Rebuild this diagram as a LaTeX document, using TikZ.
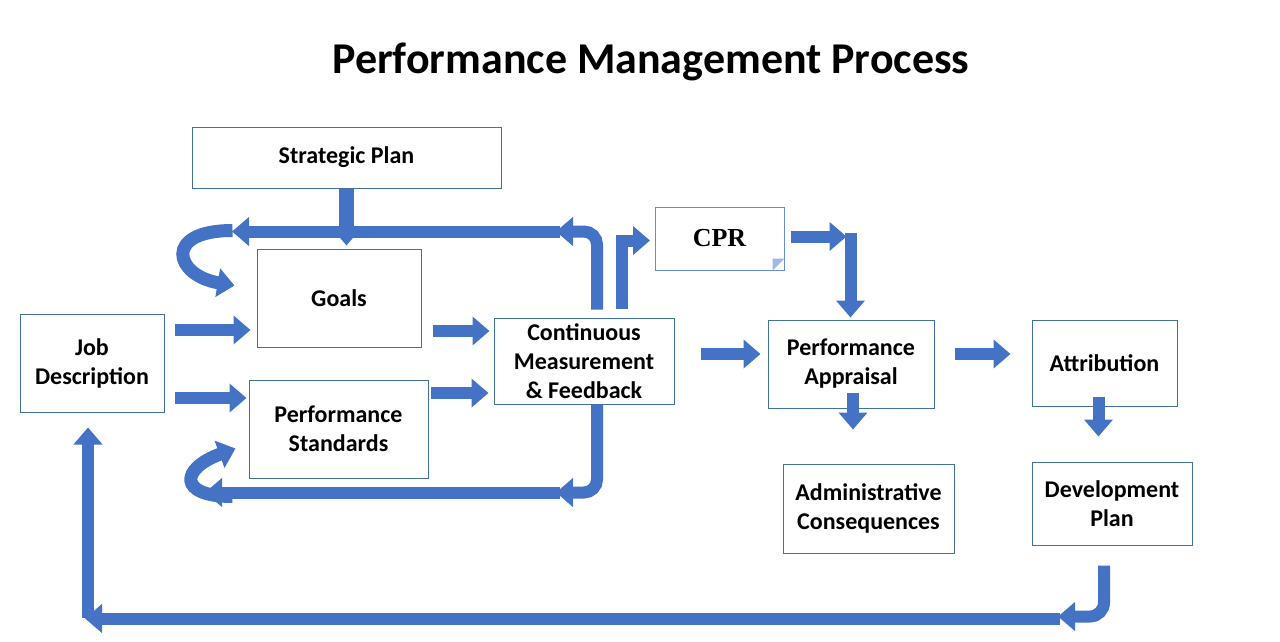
\documentclass[tikz,border=0pt]{standalone}
\usepackage{fontspec}
\setmainfont{Carlito}
\usetikzlibrary{arrows.meta,calc}
\definecolor{arrblue}{HTML}{4472C4}
\definecolor{arredge}{HTML}{2F528F}
\definecolor{boxedge}{HTML}{41719C}
\tikzset{
  box/.style={draw=boxedge, line width=1pt, align=center, font=\fontsize{24}{29}\selectfont\bfseries, inner sep=0pt},
  blk/.style={draw=arrblue, line width=12pt, -{Triangle[length=17pt,width=28pt]}, arrblue},
}
\begin{document}
\begin{tikzpicture}[x=1pt,y=-1pt]
\useasboundingbox (0,0) rectangle (1280,641);

\node[font=\fontsize{44}{52}\selectfont\bfseries] (title) at (651,62) {Performance Management Process};

\node[box, minimum width=309pt, minimum height=61pt] (strat) at (346.5,157.5) {Strategic Plan};
\node[box, minimum width=164pt, minimum height=98pt] (goals) at (339,298) {Goals};
\node[box, minimum width=179pt, minimum height=98pt] (stand) at (338.5,429) {Performance\\Standards};
\node[box, minimum width=144pt, minimum height=98pt] (jd) at (92,363) {Job\\Description};
\node[box, minimum width=180pt, minimum height=86pt] (cmf) at (584,361) {Continuous\\Measurement\\\& Feedback};
\node[box, minimum width=166pt, minimum height=88pt] (pa) at (851,364) {Performance\\Appraisal};
\node[box, minimum width=145pt, minimum height=86pt] (attr) at (1104.5,363) {Attribution};
\node[box, minimum width=171pt, minimum height=89pt] (adm) at (868.5,508.5) {Administrative\\Consequences};
\node[box, minimum width=160pt, minimum height=83pt] (dev) at (1112,503.5) {Development\\Plan};
\node[box, draw=arrblue!80, minimum width=129pt, minimum height=63pt, font=\fontsize{26}{30}\selectfont\bfseries] (cpr) at (719.5,238.5) {\fontspec{Liberation Serif}CPR};
\fill[arrblue!50] ($(cpr.south east)+(-12,0)$) -- ($(cpr.south east)+(0,-12)$) -- ($(cpr.south east)+(-12,-12)$) -- cycle;

% straight arrows
\draw[blk, line width=15pt] (strat.south) -- ++(0,57);
\draw[blk] ($(jd.east)+(10,-33)$) -- ++(76,0);
\draw[blk] ($(jd.east)+(10,35)$) -- ++(72,0);
\draw[blk] ($(goals.east)+(11,33)$) -- ++(57,0);
\draw[blk] ($(stand.east)+(2,-36)$) -- ++(58,0);
\draw[blk] ($(cmf.east)+(26,-7)$) -- ++(60,0);
\draw[blk] ($(pa.east)+(20,-10)$) -- ++(56,0);
\draw[blk] ($(pa.south)+(2,-16)$) -- ++(0,37);
\draw[blk] ($(attr.south)+(-6,-10)$) -- ++(0,40);
\draw[blk] ($(cpr.east)+(6,-2)$) -- ++(56,0);
\draw[blk] ($(cpr.east)+(66,-6)$) -- ++(0,85);

% feedback loops
\draw[blk] ($(cmf.north)+(13,-8)$) -- ++(0,-65) arc (0:-90:13) -- ++(-28,0);
\draw[blk] ($(cmf.north)+(-24,-86)$) -- ++(-328,0);
\draw[blk] ($(cmf.south)+(13,0)$) -- ++(0,75) arc (0:90:13) -- ++(-28,0);
\draw[blk] ($(cmf.south)+(-24,88)$) -- ++(-355,0);
\draw[blk] ($(cmf.north)+(38,-9)$) -- ++(0,-68) -- ++(28,0);
\draw[blk, line width=13pt] ($(goals.north west)+(-24,-18)$) .. controls ++(-70,0) and ++(-60,-10) .. ($(goals.north west)+(-22,37)$);
\draw[blk, line width=13pt] ($(stand.south west)+(-16,18)$) .. controls ++(-55,0) and ++(-55,20) .. ($(stand.south west)+(-13,-30)$);

% return to job description
\draw[blk] ($(dev.south)+(-8,20)$) -- ++(0,37) arc (0:90:14) -- ++(-32,0);
\draw[blk] ($(dev.south)+(-52,73)$) -- ++(-975,0);
\draw[blk] ($(jd.south)+(-4,205)$) -- ++(0,-190);
\end{tikzpicture}
\end{document}
